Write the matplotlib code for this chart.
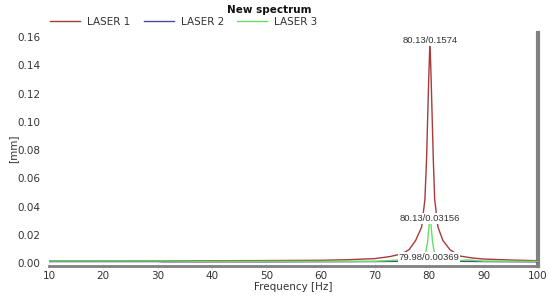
import matplotlib
matplotlib.use("Agg")
import matplotlib.pyplot as plt

# ---- data ----
f_laser1 = [10, 20, 30, 40, 50, 60, 65, 70, 72.7, 75, 76.3, 77.5, 78.6, 79.2, 79.5,
            79.9, 80.13, 80.35, 80.75, 81.0, 81.6, 82.5, 83.8, 85.5, 88, 90, 95, 100]
v_laser1 = [0.0014, 0.0014, 0.0015, 0.0016, 0.0017, 0.0019, 0.0023, 0.0031, 0.0045, 0.0065,
            0.0095, 0.016, 0.0255, 0.045, 0.073, 0.13, 0.1574, 0.13, 0.073, 0.045, 0.0255,
            0.016, 0.0095, 0.005, 0.0035, 0.0028, 0.0021, 0.0016]

f_laser2 = [10, 20, 30, 31, 40, 50, 60, 70, 75, 78, 79.5, 79.98, 80.5, 82, 85, 90, 95, 100]
v_laser2 = [0.0010, 0.0010, 0.0010, 0.0008, 0.0008, 0.0008, 0.0009, 0.0010, 0.0012, 0.0018,
            0.0030, 0.00369, 0.0030, 0.0018, 0.0012, 0.0010, 0.0009, 0.0008]

f_laser3 = [10, 20, 30, 40, 50, 60, 62, 70, 74, 76, 78, 79.3, 79.7, 80.0, 80.13, 80.3, 80.6,
            81.0, 82, 85, 87, 90, 95, 100]
v_laser3 = [0.0014, 0.0014, 0.0014, 0.0012, 0.0012, 0.0012, 0.0011, 0.0012, 0.0020, 0.0018,
            0.0030, 0.006, 0.015, 0.028, 0.03156, 0.028, 0.015, 0.006, 0.0025, 0.0015,
            0.0022, 0.0013, 0.0012, 0.0012]

annotations = [(80.13, 0.1574, "80.13/0.1574"),
               (80.13, 0.03156, "80.13/0.03156"),
               (79.98, 0.00369, "79.98/0.00369")]

xticks = [10, 20, 30, 40, 50, 60, 70, 80, 90, 100]
yticks = [0.00, 0.02, 0.04, 0.06, 0.08, 0.10, 0.12, 0.14, 0.16]

# ---- figure ----
plt.rcParams['font.family'] = ['DejaVu Sans']
fig = plt.figure(figsize=(5.5, 2.97), dpi=100)
ax = fig.add_axes([0.089, 0.106, 0.889, 0.783])

c1, c2, c3 = '#a83a3a', '#4a4a98', '#66dd66'
ax.plot(f_laser1, v_laser1, color=c1, lw=1.0, label='LASER 1', zorder=3)
ax.plot(f_laser2, v_laser2, color=c2, lw=1.0, label='LASER 2', zorder=3)
ax.plot(f_laser3, v_laser3, color=c3, lw=1.0, label='LASER 3', zorder=3)

for x, y, t in annotations:
    ax.text(x, y, t, ha='center', va='center', fontsize=6.8, color='#333333', zorder=5,
            family=['Liberation Sans', 'DejaVu Sans'],
            bbox=dict(facecolor='white', edgecolor='none', pad=0.6))

ax.set_xlim(10, 100)
ax.set_ylim(-0.0018, 0.163)
ax.set_xticks(xticks)
ax.set_xticklabels([str(v) for v in xticks])
ax.set_yticks(yticks)
ax.set_yticklabels([f"{v:.2f}" for v in yticks])

for s in ['top', 'left']:
    ax.spines[s].set_visible(False)
ax.spines['bottom'].set_color('#808080')
ax.spines['bottom'].set_linewidth(2.0)
ax.spines['right'].set_color('#808080')
ax.spines['right'].set_linewidth(3.0)

ax.tick_params(axis='x', direction='inout', length=4, width=0.8, color='#e8e8e8',
               labelsize=7.5, labelcolor='#333333', pad=2)
ax.tick_params(axis='y', length=0, labelsize=7.5, labelcolor='#333333', pad=6)

ax.set_xlabel('Frequency [Hz]', fontsize=7.5, color='#333333', labelpad=1)
ax.set_ylabel('[mm]', fontsize=7.5, color='#333333')
ax.yaxis.set_label_coords(-0.062, 0.5)

fig.text(0.49, 0.968, 'New spectrum', ha='center', va='center', fontsize=7.5,
         fontweight='bold', color='#111111')

fig.legend(loc='center left', bbox_to_anchor=(0.091, 0.927), ncol=3, frameon=False,
           fontsize=7.5, handlelength=2.9, handletextpad=0.67, columnspacing=1.25,
           labelcolor='#333333', borderaxespad=0, borderpad=0)

fig.savefig('out.png', dpi=100, facecolor='white')
